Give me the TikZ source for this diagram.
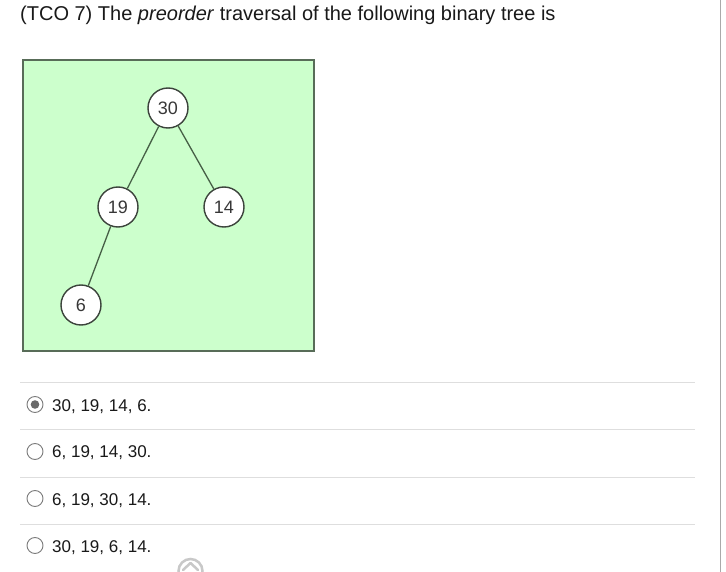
\documentclass[tikz,border=0pt]{standalone}
\usepackage{fontspec}
\setmainfont{Liberation Sans}
\definecolor{boxfill}{RGB}{204,255,204}
\definecolor{boxline}{RGB}{88,108,88}
\definecolor{edgecol}{RGB}{70,95,70}
\definecolor{nodeline}{RGB}{60,68,60}
\definecolor{nodetext}{RGB}{55,55,55}
\definecolor{sepcol}{RGB}{222,222,222}
\definecolor{radiocol}{RGB}{125,125,125}
\definecolor{radiodot}{RGB}{105,105,105}
\definecolor{txt}{RGB}{25,25,25}
\begin{document}
\begin{tikzpicture}[x=1pt,y=-1pt,
  treenode/.style={circle,draw=nodeline,line width=1.4pt,fill=white,minimum size=40pt,inner sep=0pt,text=nodetext,font=\fontsize{18}{18}\selectfont},
  treeedge/.style={draw=edgecol,line width=1.3pt},
  optext/.style={anchor=base west,inner sep=0pt,text=txt,font=\fontsize{17}{17}\selectfont},
  radio/.style={circle,draw=radiocol,line width=0.9pt,fill=white,minimum size=16pt,inner sep=0pt},
  sepline/.style={draw=sepcol,line width=1pt}]
\useasboundingbox (0,0) rectangle (726,572);
\fill[white] (0,0) rectangle (726,572);
\begin{scope}
\clip (0,0) rectangle (726,572);
% title
\node[anchor=base west,inner sep=0pt,text=txt,font=\fontsize{20}{20}\selectfont] (title) at (20,21) {(TCO 7) The \textit{preorder} traversal of the following binary tree is};
% green box
\node[draw=boxline,line width=2pt,fill=boxfill,minimum width=291pt,minimum height=290pt,inner sep=0pt,anchor=north west] (box) at (21.5,59.5) {};
% tree
\node[treenode] (n30) at (168,108) {30};
\node[treenode] (n19) at (118,207) {19};
\node[treenode] (n14) at (224,207) {14};
\node[treenode] (n6) at (81,305) {6};
\draw[treeedge] (n30) -- (n19);
\draw[treeedge] (n30) -- (n14);
\draw[treeedge] (n19) -- (n6);
% separators
\coordinate (s1a) at (20,382.5); \coordinate (s1b) at (695,382.5);
\coordinate (s2a) at (20,429.5); \coordinate (s2b) at (695,429.5);
\coordinate (s3a) at (20,477.5); \coordinate (s3b) at (695,477.5);
\coordinate (s4a) at (20,524.5); \coordinate (s4b) at (695,524.5);
\draw[sepline] (s1a) -- (s1b);
\draw[sepline] (s2a) -- (s2b);
\draw[sepline] (s3a) -- (s3b);
\draw[sepline] (s4a) -- (s4b);
% options
\node[radio] (r1) at (35,404.5) {};
\fill[radiodot] (r1.center) circle (4.3pt);
\node[radio] (r2) at (35,451.5) {};
\node[radio] (r3) at (35,498.5) {};
\node[radio] (r4) at (35,545.5) {};
\node[optext] (o1) at (52,411) {30, 19, 14, 6.};
\node[optext] (o2) at (52,457.5) {6, 19, 14, 30.};
\node[optext] (o3) at (52,505) {6, 19, 30, 14.};
\node[optext] (o4) at (52,552.5) {30, 19, 6, 14.};
% scroll line
\coordinate (v1) at (720.5,0); \coordinate (v2) at (720.5,572);
\draw[draw={rgb,255:red,170;green,170;blue,170},line width=1pt] (v1) -- (v2);
% partial up icon
\draw[draw={rgb,255:red,200;green,200;blue,200},line width=2.5pt] (190.5,571) circle (12pt);
\draw[draw={rgb,255:red,200;green,200;blue,200},line width=2.5pt,line cap=round,line join=round] (183,570) -- (190.5,563) -- (198,570);
\end{scope}
\end{tikzpicture}
\end{document}
